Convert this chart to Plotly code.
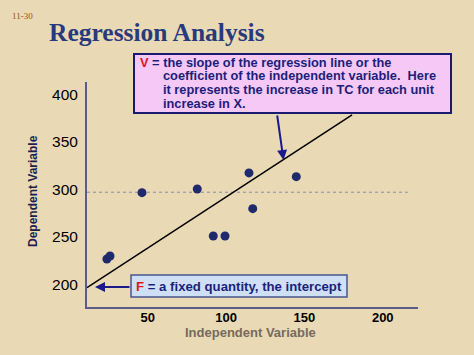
import plotly.graph_objects as go

# ---- data ----
x_vals = [23.9, 25.9, 46.3, 81.6, 91.8, 99.3, 114.6, 117.0, 144.8]
y_vals = [226.7, 229.9, 296.5, 300.4, 250.9, 250.9, 317.3, 279.7, 313.4]
reg_x = [11.2, 180.4]
reg_y = [196.5, 378.3]
ref_x = [11.2, 216.0]
ref_y = [297.0, 297.0]
x_ticks = [50, 100, 150, 200]
y_ticks = [200, 250, 300, 350, 400]
x_range = [11.2, 222.5]
y_range = [176.2, 413.0]

W, H = 474, 355
L, R, T, B = 87, 56, 82, 48
PW, PH = W - L - R, H - T - B

def px(x):
    return (x - L) / PW

def py(y):
    return (H - B - y) / PH

NAVY = "#1c1f7a"
BG = "#e9dab5"
SANS = "Liberation Sans, Arial, sans-serif"

fig = go.Figure()
fig.add_trace(go.Scatter(x=ref_x, y=ref_y, mode="lines",
                         line=dict(color="#8c8c9c", width=1, dash="dot"),
                         hoverinfo="skip", showlegend=False))
fig.add_trace(go.Scatter(x=reg_x, y=reg_y, mode="lines",
                         line=dict(color="black", width=1.5),
                         showlegend=False))
fig.add_trace(go.Scatter(x=x_vals, y=y_vals, mode="markers",
                         marker=dict(color="#1f2a6b", size=9),
                         showlegend=False))

shapes = [
    dict(type="rect", xref="paper", yref="paper",
         x0=px(134), x1=px(451), y0=py(113), y1=py(54),
         fillcolor="#f6c8f6", line=dict(color="#1a1a6e", width=2), layer="above"),
    dict(type="rect", xref="paper", yref="paper",
         x0=px(131), x1=px(347), y0=py(297), y1=py(275),
         fillcolor="#cfe0f6", line=dict(color="#4a5590", width=1.5), layer="above"),
]

ann = []
def txt(x, y, text, size=12, color=NAVY, anchor="left", family=SANS, weight="bold", angle=0, pad=1):
    ann.append(dict(xref="paper", yref="paper", x=px(x), y=py(y), text=text,
                    showarrow=False, xanchor=anchor, yanchor="middle",
                    textangle=angle, borderpad=pad,
                    font=dict(size=size, color=color, family=family, weight=weight)))

txt(10, 16, "11-30", size=9, color="#a8452f", family="Liberation Serif, serif", weight="normal")
txt(157, 33, "Regression Analysis", size=25.5, color="#283a7c", anchor="center",
    family="Liberation Serif, Times New Roman, serif")
VS = 12.8
txt(139, 62, "<span style='color:#e0141e'>V</span> = the slope of the regression line or the", size=VS, pad=0)
txt(162, 75.8, "coefficient of the independent variable.  Here", size=VS, pad=0)
txt(162, 89.5, "it represents the increase in TC for each unit", size=VS, pad=0)
txt(162, 103.3, "increase in X.", size=VS, pad=0)
txt(134, 286, "<span style='color:#e0141e'>F</span> = a fixed quantity, the intercept", size=13.2)
txt(33, 191, "Dependent Variable", size=12, color="#1e1e4e", anchor="center", angle=-90)
txt(250, 332, "Independent Variable", size=13, color="#776a5c", anchor="center")

ann.append(dict(xref="paper", yref="paper", x=px(283.5), y=py(160),
                ax=-6.5, ay=-46, axref="pixel", ayref="pixel", text="",
                showarrow=True, arrowhead=2, arrowsize=1, arrowwidth=2, arrowcolor="#1a1a8a"))
ann.append(dict(xref="paper", yref="paper", x=px(95), y=py(287),
                ax=36, ay=0, text="",
                showarrow=True, arrowhead=2, arrowsize=1, arrowwidth=2, arrowcolor="#1a1a8a"))

fig.update_layout(
    width=W, height=H,
    margin=dict(l=L, r=R, t=T, b=B, autoexpand=False),
    paper_bgcolor=BG, plot_bgcolor=BG,
    shapes=shapes, annotations=ann,
    xaxis=dict(range=x_range, tickvals=x_ticks, showgrid=False, zeroline=False,
               showline=True, linecolor="#5c5c88", linewidth=2,
               ticks="", ticklabelstandoff=-3,
               tickfont=dict(family=SANS, size=13, color="black", weight="bold")),
    yaxis=dict(range=y_range, tickvals=y_ticks, showgrid=False, zeroline=False,
               showline=True, linecolor="#5c5c88", linewidth=2,
               ticks="", ticklabelstandoff=4,
               tickfont=dict(family=SANS, size=15.5, color="black")),
)

fig.write_html("out.html")
